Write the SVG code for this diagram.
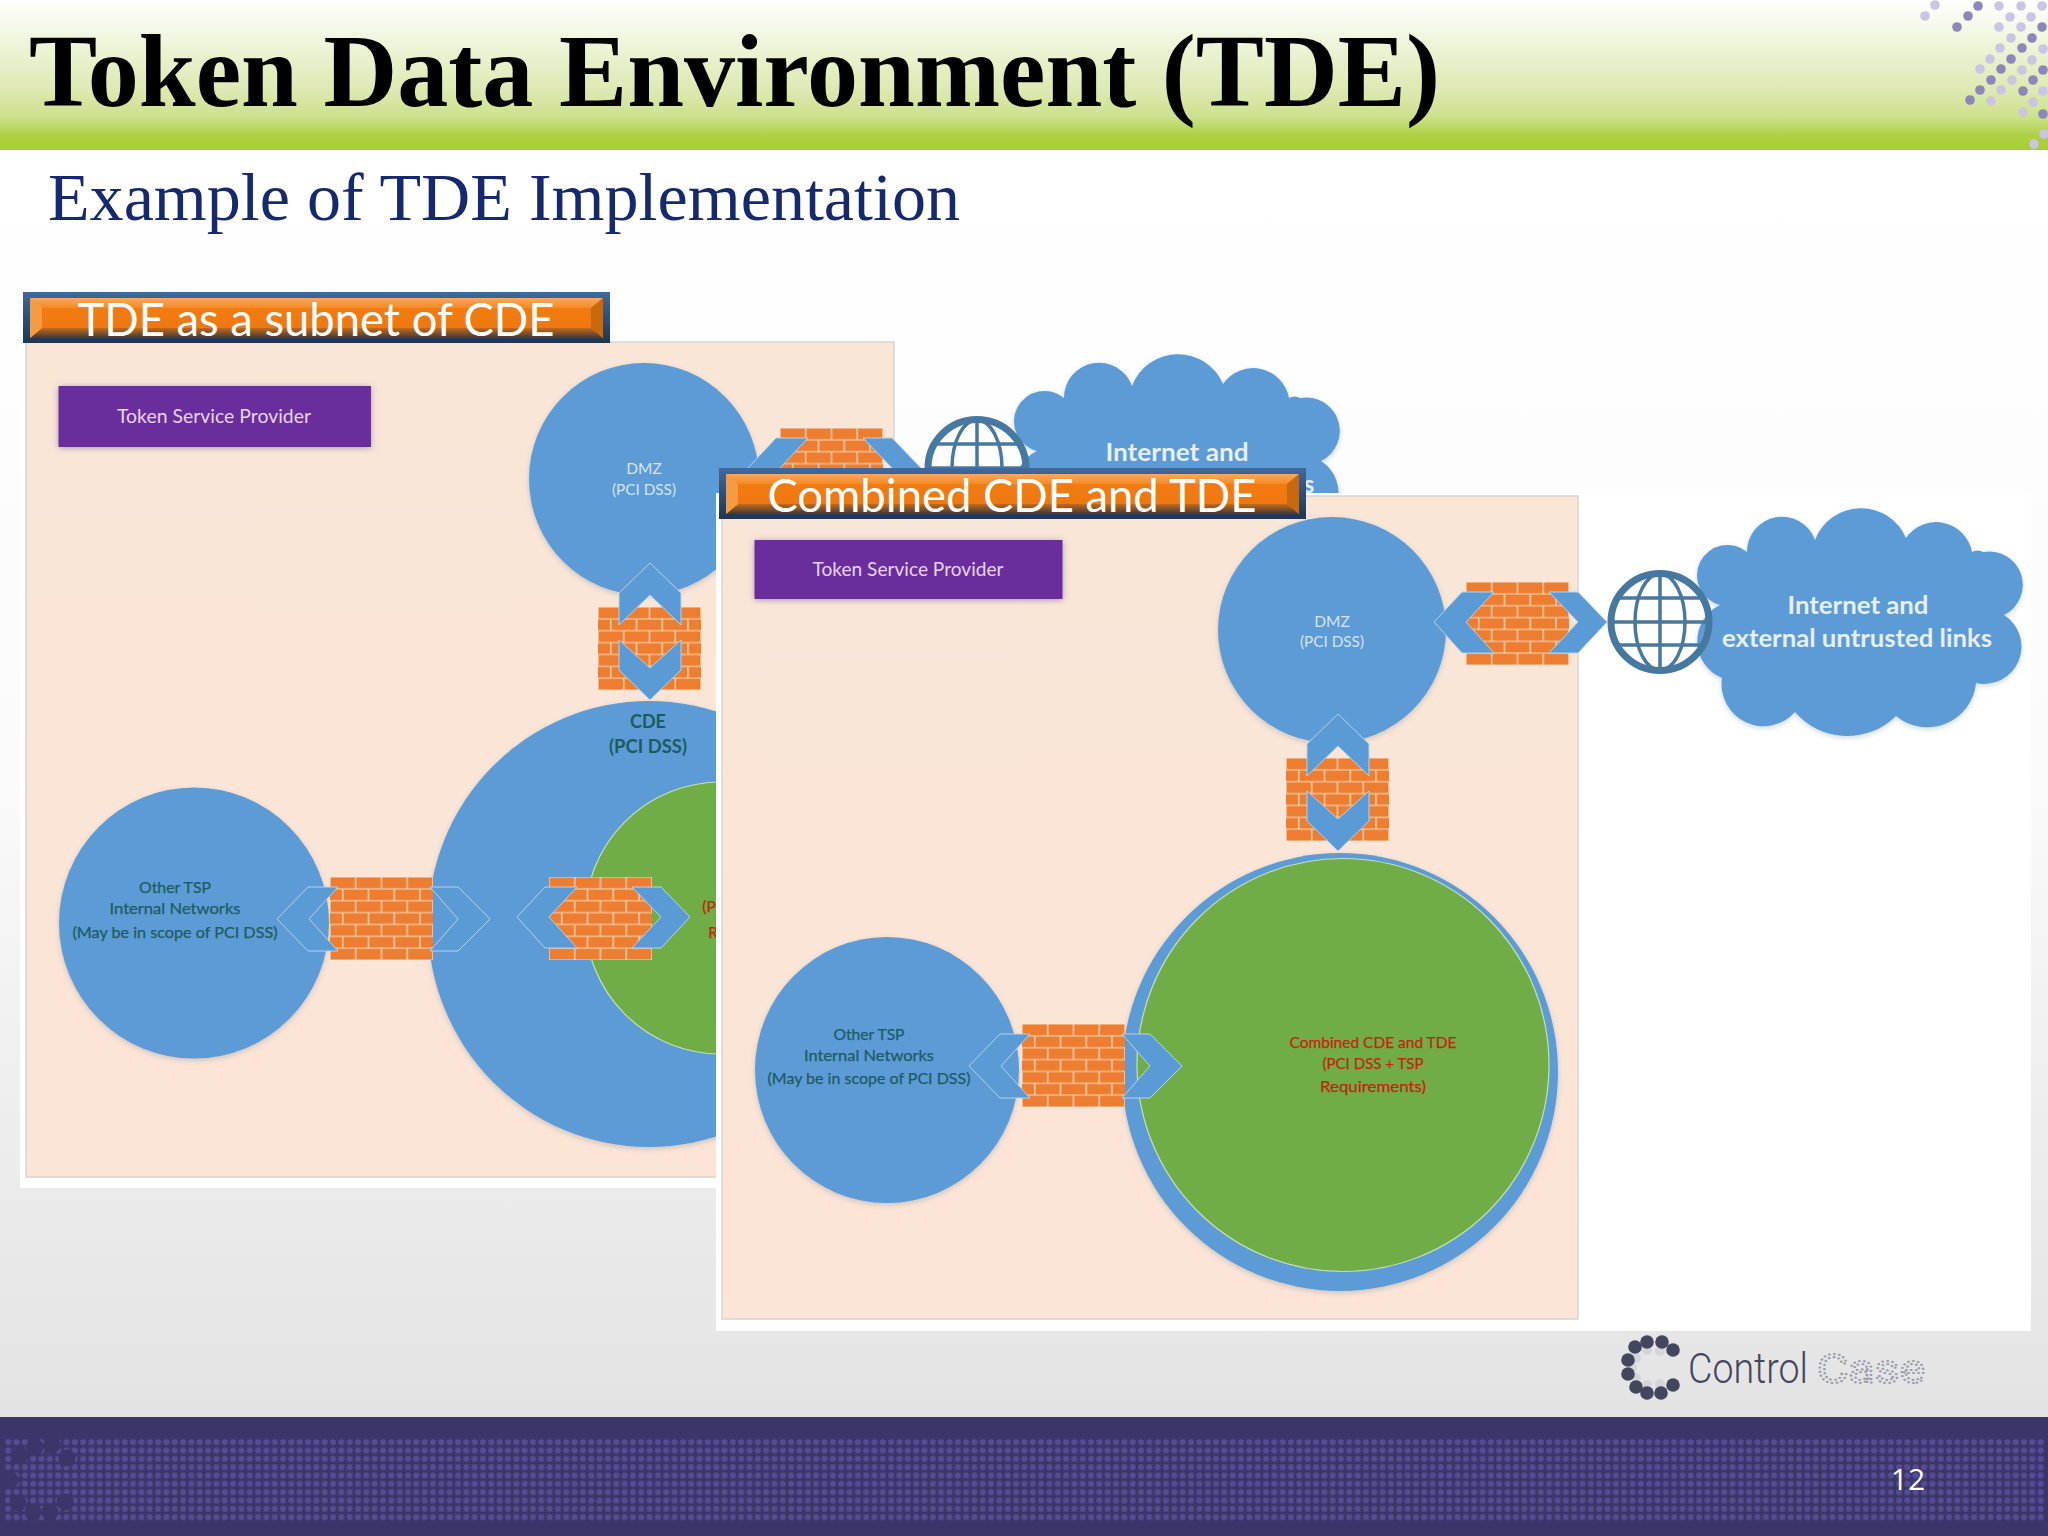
<svg xmlns="http://www.w3.org/2000/svg" width="2048" height="1536" viewBox="0 0 2048 1536">
<defs>
<linearGradient id="bg" x1="0" y1="0" x2="0" y2="1"><stop offset="0.1" stop-color="#fff"/><stop offset="0.5" stop-color="#fbfbfb"/><stop offset="0.72" stop-color="#eeeeef"/><stop offset="1" stop-color="#dfdfe0"/></linearGradient>
<linearGradient id="hdr" x1="0" y1="0" x2="0" y2="1"><stop offset="0" stop-color="#fff"/><stop offset="0.25" stop-color="#f1f6df"/><stop offset="0.6" stop-color="#dde9b2"/><stop offset="0.78" stop-color="#cde18c"/><stop offset="0.9" stop-color="#aed144"/><stop offset="1" stop-color="#a7cd38"/></linearGradient>
<linearGradient id="btnOuter" x1="0" y1="0" x2="0" y2="1"><stop offset="0" stop-color="#41699a"/><stop offset="1" stop-color="#1e3752"/></linearGradient>
<linearGradient id="btnTop" x1="0" y1="0" x2="0" y2="1"><stop offset="0" stop-color="#f9a85e"/><stop offset="1" stop-color="#f58a22"/></linearGradient>
<linearGradient id="btnBot" x1="0" y1="0" x2="0" y2="1"><stop offset="0" stop-color="#c46a1a"/><stop offset="1" stop-color="#3e3a38"/></linearGradient>
<linearGradient id="btnFace" x1="0" y1="0" x2="0" y2="1"><stop offset="0" stop-color="#f47e10"/><stop offset="1" stop-color="#ee7511"/></linearGradient>
<linearGradient id="peach" x1="0" y1="0" x2="0" y2="1"><stop offset="0" stop-color="#f9e6d7"/><stop offset="1" stop-color="#fce4d6"/></linearGradient>
<pattern id="brick" patternUnits="userSpaceOnUse" width="25.75" height="23.72">
<rect width="25.75" height="23.72" fill="#fbdcbc"/>
<rect x="0.6" y="0.5" width="24.5" height="10.9" fill="#ed7d31"/>
<rect x="-1" y="12.4" width="13.1" height="10.8" fill="#ed7d31"/>
<rect x="13.4" y="12.4" width="13.2" height="10.8" fill="#ed7d31"/>
</pattern>
<pattern id="dots" patternUnits="userSpaceOnUse" x="4" y="1438" width="8.33" height="8.33"><circle cx="4.16" cy="4.16" r="3" fill="#554d94"/></pattern>
<filter id="soft" x="-5%" y="-5%" width="110%" height="112%"><feDropShadow dx="0" dy="2" stdDeviation="2.5" flood-color="#2b4a6b" flood-opacity="0.22"/></filter>
<filter id="glow" x="-5%" y="-10%" width="110%" height="120%"><feDropShadow dx="0" dy="1" stdDeviation="3" flood-color="#5a4a90" flood-opacity="0.5"/></filter>
<clipPath id="aboveBtn"><rect x="700" y="340" width="700" height="128"/></clipPath>
<path id="cloudShape" d="M1720 605A30.500 30.500 0 1 1 1747 552A35 35 0 0 1 1815 540A49 49 0 0 1 1906 538A36.500 36.500 0 0 1 1972 552Q1978 549 1983 552A33.500 33.500 0 0 1 2004 615A37.300 37.300 0 0 1 1976 683A49 49 0 0 1 1896 716A69 69 0 0 1 1795 712A42 42 0 0 1 1722 678A40 40 0 0 1 1720 605Z"/>
<g id="globe" fill="none" stroke="#47789f"><ellipse cx="1660" cy="622" rx="49" ry="48.5" stroke-width="7"/><ellipse cx="1660" cy="622" rx="25" ry="48" stroke-width="3.5"/><path d="M1660 574V670M1615 598H1705M1612 622H1708M1615 645H1705" stroke-width="3.500"/></g>
<rect id="wall" width="103" height="83" fill="url(#brick)"/>
<g id="hfwA"><use href="#wall"/><polygon class="chev" points="-32,40 -4,10 28,10 0,40 28,71 -4,71"/><polygon class="chev" points="141,40 112,10 83,10 112,40 83,71 112,71"/></g>
<g id="hfwC"><use href="#wall"/><polygon class="chev" points="-53,42 -22,10 8,10 -21,42 8,74 -22,74"/><polygon class="chev" points="160,42 128,10 100,10 128,42 100,74 128,74"/></g>
<g id="vfw"><use href="#wall" x="598" y="607"/><polygon class="chev" points="650,563 681,593 681,625 650,595 619,625 619,593"/><polygon class="chev" points="650,700 681,670 681,640 650,668 619,640 619,670"/></g>
<g id="btn">
<rect x="23" y="292" width="587" height="51" fill="url(#btnOuter)"/>
<rect x="30" y="298" width="573" height="40" fill="url(#btnFace)"/>
<polygon points="30,298 603,298 591,308 42,308" fill="url(#btnTop)"/>
<polygon points="42,328 591,328 603,338 30,338" fill="url(#btnBot)"/>
<polygon points="30,298 42,308 42,328 30,338" fill="#f69a44"/>
<polygon points="603,298 591,308 591,328 603,338" fill="#c8690f"/>
</g>
</defs>
<style>
.blue{fill:#5b9bd5}
.chev{fill:#5b9bd5;stroke:#b4d3ec;stroke-width:1}
.green{fill:#70ad47;stroke:#c6e0b4;stroke-width:1.2}
.panel{fill:url(#peach);stroke:#d8d5d2;stroke-width:1.5}
.back{fill:#fff}
.tsp{fill:#6a2d9c;filter:url(#glow)}
.lato{font-family:"Lato","Open Sans",sans-serif;text-anchor:middle}
.t-tsp{font-size:19px;fill:#e6d4f2}
.t-dmz{font-size:15.5px;fill:#d6e4f1}
.t-dark{font-size:16px;fill:#1c5c64;stroke:#1c5c64;stroke-width:.25}
.t-cde{font-size:18px;font-weight:700;fill:#1c5c5c}
.t-red{font-size:15.5px;fill:#c4260c;stroke:#c4260c;stroke-width:.25}
.t-net{font-size:24px;font-weight:700;fill:#e6eff6}
.t-btn{font-family:"Lato","Open Sans",sans-serif;font-size:47px;fill:#fff;text-anchor:middle}
.d1{fill:#c9c5e2}.d2{fill:#8c86ba}
.lg{fill:#44465e}.lc{fill:#d3d5d8}
</style>

<rect id="slide-bg" width="2048" height="1536" fill="url(#bg)"/>
<g id="header-band">
<rect width="2048" height="150" fill="url(#hdr)"/>
<g class="d1"><circle cx="1925" cy="16" r="4.8"/><circle cx="1935" cy="5" r="4.8"/><circle cx="1999" cy="6" r="4.8"/><circle cx="2021" cy="6" r="4.8"/><circle cx="2042" cy="6" r="4.8"/><circle cx="2010" cy="17" r="4.8"/><circle cx="2031" cy="17" r="4.8"/><circle cx="1999" cy="27" r="4.8"/><circle cx="2021" cy="27" r="4.8"/><circle cx="2011" cy="38" r="4.8"/><circle cx="2000" cy="48" r="4.8"/><circle cx="2043" cy="49" r="4.8"/><circle cx="1990" cy="59" r="4.8"/><circle cx="2032" cy="60" r="4.8"/><circle cx="1980" cy="69" r="4.8"/><circle cx="2022" cy="70" r="4.8"/><circle cx="2012" cy="80" r="4.8"/><circle cx="2001" cy="90" r="4.8"/><circle cx="1991" cy="101" r="4.8"/><circle cx="2033" cy="102" r="4.8"/><circle cx="2023" cy="112" r="4.8"/><circle cx="2043" cy="91" r="4.8"/><circle cx="2044" cy="134" r="4.8"/><circle cx="2034" cy="144" r="4.8"/></g>
<g class="d2"><circle cx="1978" cy="6" r="4.8"/><circle cx="1968" cy="16" r="4.8"/><circle cx="1957" cy="27" r="4.8"/><circle cx="2042" cy="27" r="4.8"/><circle cx="2032" cy="38" r="4.8"/><circle cx="2022" cy="48" r="4.8"/><circle cx="2011" cy="59" r="4.8"/><circle cx="2001" cy="69" r="4.8"/><circle cx="2043" cy="70" r="4.8"/><circle cx="1991" cy="80" r="4.8"/><circle cx="2033" cy="80" r="4.8"/><circle cx="1980" cy="90" r="4.8"/><circle cx="2023" cy="91" r="4.8"/><circle cx="1970" cy="100" r="4.8"/><circle cx="2043" cy="114" r="4.8"/></g>
<text x="29" y="106" font-family="'Liberation Serif',serif" font-weight="700" font-size="103" fill="#000" textLength="1411" lengthAdjust="spacingAndGlyphs">Token Data Environment (TDE)</text>
</g>
<text id="subtitle" x="48" y="219.500" font-family="'Liberation Serif',serif" font-size="68" fill="#16296e" textLength="912" lengthAdjust="spacingAndGlyphs">Example of TDE Implementation</text>

<g id="footer-band">
<rect y="1417" width="2048" height="119" fill="#3c3569"/>
<rect x="4" y="1438" width="2040" height="83.300" fill="url(#dots)"/>
<g fill="#3c3569"><circle cx="20" cy="1455" r="8.500"/><circle cx="35" cy="1447" r="8.500"/><circle cx="52" cy="1445" r="8.500"/><circle cx="67" cy="1458" r="8.500"/><circle cx="65" cy="1502" r="8.500"/><circle cx="50" cy="1512" r="8.500"/><circle cx="33" cy="1512" r="8.500"/><circle cx="18" cy="1503" r="8.500"/><circle cx="10" cy="1480" r="8.500"/></g>
<text x="1908" y="1490" font-family="'Open Sans',sans-serif" font-size="30" fill="#fff" text-anchor="middle">12</text>
</g>

<g id="logo">
<g class="lc"><circle cx="1647" cy="1350" r="5"/><circle cx="1660" cy="1351" r="5"/><circle cx="1636" cy="1358" r="5"/><circle cx="1632" cy="1368" r="5"/><circle cx="1636" cy="1378" r="5"/><circle cx="1647" cy="1385" r="5"/><circle cx="1660" cy="1384" r="5"/></g>
<g class="lg"><circle cx="1647" cy="1342" r="6.800"/><circle cx="1662" cy="1342" r="6.800"/><circle cx="1673" cy="1350" r="6.800"/><circle cx="1635" cy="1347" r="6.800"/><circle cx="1628" cy="1360" r="6.800"/><circle cx="1628" cy="1374" r="6.800"/><circle cx="1636" cy="1387" r="6.800"/><circle cx="1647" cy="1393" r="6.800"/><circle cx="1661" cy="1393" r="6.800"/><circle cx="1673" cy="1385" r="6.800"/></g>
<text x="1688" y="1383" font-family="Roboto,sans-serif" font-weight="300" font-size="42" fill="#45475d" textLength="120" lengthAdjust="spacingAndGlyphs">Control</text>
<text x="1817" y="1383" font-family="Roboto,sans-serif" font-size="40" fill="none" stroke="#9a9caa" stroke-width="2.200" stroke-linecap="round" stroke-dasharray="0.1 4" textLength="108" lengthAdjust="spacingAndGlyphs">Case</text>
</g>

<g id="panel-left">
<rect class="back" x="20" y="343" width="700" height="845"/>
<rect class="panel" x="26" y="342" width="868" height="835"/>
</g>
<g id="left-cloud"><use href="#cloudShape" class="blue" transform="translate(-683 -154)" filter="url(#soft)"/><use href="#globe" transform="translate(-683 -154)"/>
<text class="lato t-net" x="1177" y="461" textLength="143" lengthAdjust="spacingAndGlyphs">Internet and</text><text class="lato t-net" x="1309" y="493">s</text></g>
<g id="left-tsp"><rect class="tsp" x="58.500" y="386" width="312.500" height="61"/><text class="lato t-tsp" x="214" y="423" textLength="194" lengthAdjust="spacingAndGlyphs">Token Service Provider</text></g>
<g id="left-dmz"><ellipse class="blue" cx="644" cy="479" rx="115" ry="116" filter="url(#soft)"/><text class="lato t-dmz" x="644" y="474">DMZ</text><text class="lato t-dmz" x="644" y="495" textLength="64" lengthAdjust="spacingAndGlyphs">(PCI DSS)</text></g>
<g id="left-cde"><ellipse class="blue" cx="649" cy="924" rx="221" ry="223" filter="url(#soft)"/><text class="lato t-cde" x="648" y="728">CDE</text><text class="lato t-cde" x="648" y="753" textLength="78" lengthAdjust="spacingAndGlyphs">(PCI DSS)</text></g>
<g id="left-tde"><ellipse class="green" cx="721" cy="918" rx="136" ry="136"/><text class="lato t-red" x="709" y="912">(P</text><text class="lato t-red" x="713" y="938">R</text></g>
<g id="left-other"><ellipse class="blue" cx="194" cy="923" rx="135" ry="135.500" filter="url(#soft)"/><text class="lato t-dark" x="175" y="893" textLength="72" lengthAdjust="spacingAndGlyphs">Other TSP</text><text class="lato t-dark" x="175" y="914" textLength="131" lengthAdjust="spacingAndGlyphs">Internal Networks</text><text class="lato t-dark" x="175" y="938" textLength="205" lengthAdjust="spacingAndGlyphs">(May be in scope of PCI DSS)</text></g>
<g id="left-title"><use href="#btn"/><text class="t-btn" x="316" y="336" textLength="477" lengthAdjust="spacingAndGlyphs">TDE as a subnet of CDE</text></g>

<g id="panel-right">
<rect class="back" x="716" y="493" width="1315" height="838"/>
<rect class="panel" x="722" y="496" width="856" height="823"/>
</g>
<g id="right-cloud"><use href="#cloudShape" class="blue" filter="url(#soft)"/><use href="#globe"/>
<text class="lato t-net" x="1858" y="614" textLength="141" lengthAdjust="spacingAndGlyphs">Internet and</text><text class="lato t-net" x="1857" y="647" textLength="270" lengthAdjust="spacingAndGlyphs">external untrusted links</text></g>
<g id="right-tsp"><rect class="tsp" x="754.500" y="540" width="308" height="59"/><text class="lato t-tsp" x="908" y="576" textLength="191" lengthAdjust="spacingAndGlyphs">Token Service Provider</text></g>
<g id="right-dmz"><ellipse class="blue" cx="1332" cy="630" rx="114" ry="113" filter="url(#soft)"/><text class="lato t-dmz" x="1332" y="627">DMZ</text><text class="lato t-dmz" x="1332" y="647" textLength="64" lengthAdjust="spacingAndGlyphs">(PCI DSS)</text></g>
<g id="right-combined"><ellipse class="blue" cx="1340" cy="1072" rx="218" ry="219" filter="url(#soft)"/><ellipse class="green" cx="1343" cy="1065" rx="206" ry="206.500"/><text class="lato t-red" x="1373" y="1048" textLength="167" lengthAdjust="spacingAndGlyphs">Combined CDE and TDE</text><text class="lato t-red" x="1373" y="1069" textLength="101" lengthAdjust="spacingAndGlyphs">(PCI DSS + TSP</text><text class="lato t-red" x="1373" y="1092" textLength="106" lengthAdjust="spacingAndGlyphs">Requirements)</text></g>
<g id="right-other"><ellipse class="blue" cx="887" cy="1070" rx="132" ry="133" filter="url(#soft)"/><text class="lato t-dark" x="869" y="1040" textLength="71" lengthAdjust="spacingAndGlyphs">Other TSP</text><text class="lato t-dark" x="869" y="1061" textLength="130" lengthAdjust="spacingAndGlyphs">Internal Networks</text><text class="lato t-dark" x="869" y="1084" textLength="203" lengthAdjust="spacingAndGlyphs">(May be in scope of PCI DSS)</text></g>
<g id="right-title"><use href="#btn" transform="translate(696 176)"/><text class="t-btn" x="1012" y="512" textLength="489" lengthAdjust="spacingAndGlyphs">Combined CDE and TDE</text></g>

<g id="connectors">
<g clip-path="url(#aboveBtn)"><use href="#hfwA" x="780" y="428"/></g>
<use href="#vfw"/>
<use href="#hfwC" x="330" y="877"/>
<use href="#hfwA" x="549" y="877"/>
<use href="#hfwA" x="1466" y="582"/>
<use href="#vfw" transform="translate(688 151)"/>
<use href="#hfwC" x="1022" y="1024"/>
</g>
</svg>
